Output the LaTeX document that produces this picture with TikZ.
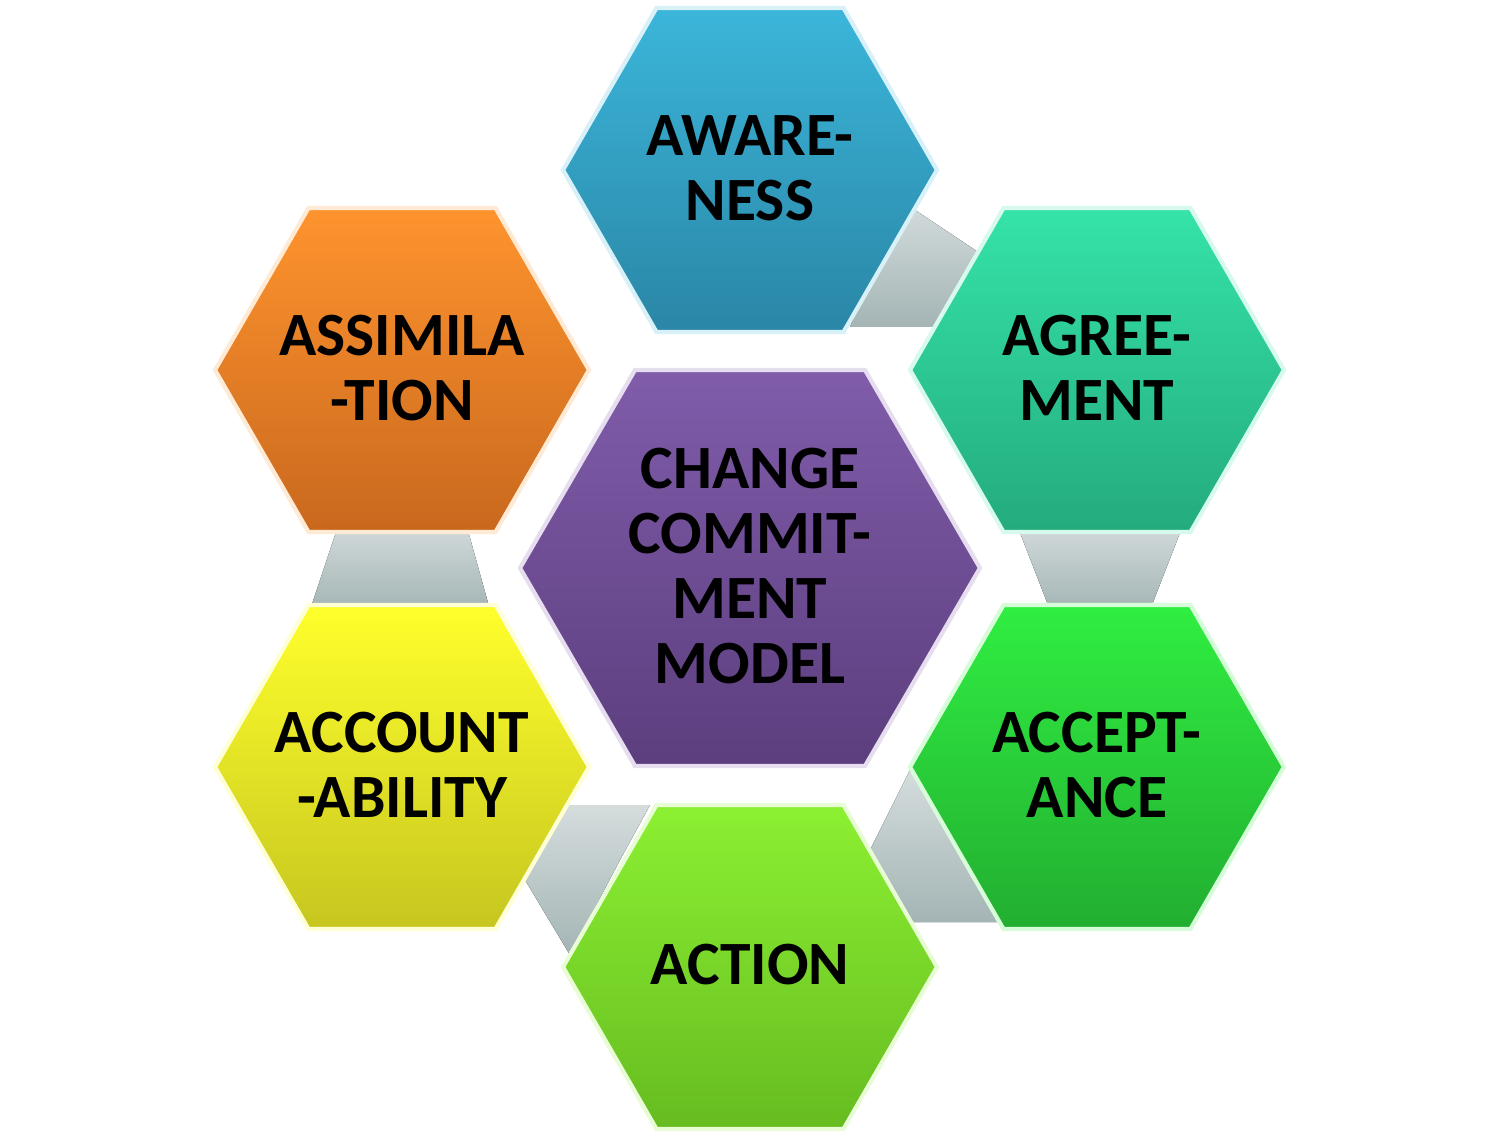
\documentclass[tikz,border=0pt]{standalone}
\usepackage{fontspec}
\setmainfont{Carlito}
\begin{document}
\begin{tikzpicture}[x=0.01cm,y=-0.01cm,
  lbl/.style={align=center,font=\bfseries\fontsize{17.5}{18.5}\selectfont,text=black},
  band/.style={top color=cyan!10!gray!30,bottom color=cyan!10!gray!65,draw=none}]
\useasboundingbox (0,0) rectangle (1500,1143);
\definecolor{awT}{HTML}{3BB6DA}\definecolor{awB}{HTML}{2A86A6}
\definecolor{agT}{HTML}{35E3A8}\definecolor{agB}{HTML}{24AB7E}
\definecolor{acT}{HTML}{30EE42}\definecolor{acB}{HTML}{22AE30}
\definecolor{atT}{HTML}{8CF032}\definecolor{atB}{HTML}{66BC20}
\definecolor{abT}{HTML}{FFFF2C}\definecolor{abB}{HTML}{C6C620}
\definecolor{asT}{HTML}{FF942E}\definecolor{asB}{HTML}{C9681E}
\definecolor{ceT}{HTML}{805CAA}\definecolor{ceB}{HTML}{5C3E7E}
\newcommand\hexag[6]{%
 \fill[top color=#5,bottom color=#6,draw=white!80!#5,line width=1.2pt]
  (#1-#3,#2) -- (#1-#3/2,#2-#4) -- (#1+#3/2,#2-#4) -- (#1+#3,#2) -- (#1+#3/2,#2+#4) -- (#1-#3/2,#2+#4) -- cycle;}
% bands
\fill[band] (900,200) -- (990,260) -- (935,327) -- (850,327) -- cycle;
\fill[band] (1015,520) -- (1185,520) -- (1150,610) -- (1050,610) -- cycle;
\fill[band] (910,770) -- (960,780) -- (1000,922) -- (905,922) -- (870,850) -- cycle;
\fill[band] (560,805) -- (650,805) -- (620,860) -- (570,955) -- (525,880) -- cycle;
\fill[band] (340,520) -- (465,520) -- (490,610) -- (310,610) -- cycle;
% hexes
\hexag{750}{170}{187}{162}{awT}{awB}
\hexag{1097}{370}{187}{162}{agT}{agB}
\hexag{1097}{767}{187}{162}{acT}{acB}
\hexag{750}{967}{187}{162}{atT}{atB}
\hexag{402}{767}{187}{162}{abT}{abB}
\hexag{402}{370}{187}{162}{asT}{asB}
\hexag{750}{568}{230}{198}{ceT}{ceB}
\node[lbl] (aw) at (750,168) {AWARE-\\NESS};
\node[lbl] (ag) at (1097,368) {AGREE-\\MENT};
\node[lbl] (ac) at (1097,765) {ACCEPT-\\ANCE};
\node[lbl] (at) at (750,965) {ACTION};
\node[lbl] (ab) at (402,765) {ACCOUNT\\-ABILITY};
\node[lbl] (as) at (402,368) {ASSIMILA\\-TION};
\node[lbl] (ce) at (750,566) {CHANGE\\COMMIT-\\MENT\\MODEL};
\end{tikzpicture}
\end{document}
